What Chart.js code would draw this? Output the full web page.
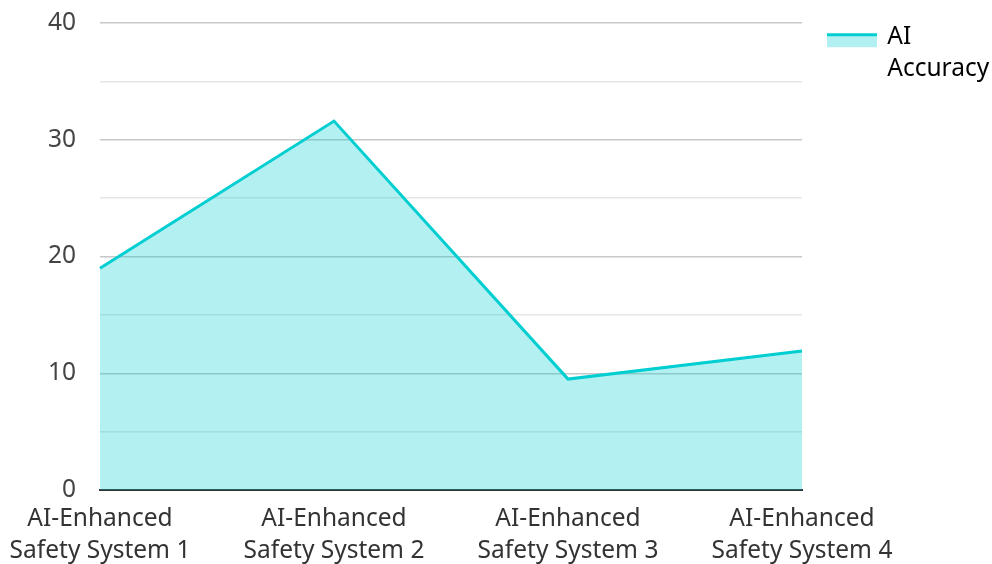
<!DOCTYPE html>
<html>
<head>
<meta charset="utf-8">
<script src="https://cdn.jsdelivr.net/npm/chart.js@4/dist/chart.umd.min.js"></script>
<style>
html,body{margin:0;padding:0;background:#fff;}
#wrap{width:992px;height:564px;position:relative;}
</style>
</head>
<body>
<div id="wrap"><canvas id="c" width="992" height="564"></canvas></div>
<script>
const categories = [
  ["AI-Enhanced", "Safety System 1"],
  ["AI-Enhanced", "Safety System 2"],
  ["AI-Enhanced", "Safety System 3"],
  ["AI-Enhanced", "Safety System 4"]
];
const seriesName = ["AI", "Accuracy"];
const accuracy = [19.0, 31.6, 9.5, 11.9];
const yTicks = [0, 10, 20, 30, 40];

const LINE = '#00CED1';
const FILL = 'rgba(0,206,209,0.30)';

// legend swatch: thick line on top of a light fill block (with transparent margin)
const sw = document.createElement('canvas');
sw.width = 77; sw.height = 28;
(function(){
  const g = sw.getContext('2d');
  g.fillStyle = FILL; g.fillRect(26, 10, 50, 14);
  g.fillStyle = LINE; g.fillRect(26, 10, 50, 3);
})();

Chart.defaults.font.family = "'Noto Sans', 'Open Sans', sans-serif";
Chart.defaults.color = '#444';

new Chart(document.getElementById('c'), {
  type: 'line',
  data: {
    labels: categories,
    datasets: [{
      label: seriesName.join(' '),
      data: accuracy,
      borderColor: LINE,
      backgroundColor: FILL,
      borderWidth: 3,
      fill: 'origin',
      tension: 0,
      pointRadius: 0,
      pointHoverRadius: 0
    }]
  },
  options: {
    responsive: false,
    animation: false,
    layout: { padding: { top: 23, right: 0, left: 0, bottom: 0 } },
    plugins: {
      tooltip: { enabled: false },
      legend: {
        position: 'right',
        align: 'start',
        maxWidth: 190,
        labels: {
          usePointStyle: true,
          pointStyleWidth: 71,
          boxHeight: 14,
          padding: 2,
          color: '#333',
          font: { size: 24.5, lineHeight: 1.306 },
          generateLabels(chart) {
            return [{
              text: seriesName,
              pointStyle: sw,
              fillStyle: FILL,
              strokeStyle: LINE,
              lineWidth: 0,
              datasetIndex: 0,
              hidden: false
            }];
          }
        }
      }
    },
    scales: {
      x: {
        offset: false,
        grid: { display: false, drawTicks: false },
        border: { display: true, color: '#333', width: 2 },
        ticks: {
          color: '#333',
          font: { size: 24.5, lineHeight: 1.306 },
          maxRotation: 0,
          autoSkip: false,
          padding: 13
        },
        afterFit(scale) {
          scale.height = 74;
          scale.paddingLeft = 0; scale.paddingRight = 0;
        }
      },
      y: {
        min: 0,
        max: 40,
        grid: {
          drawTicks: false,
          lineWidth: 1.5,
          color: (ctx) => (ctx.tick && yTicks.includes(ctx.tick.value)) ? '#c8c8c8' : '#e6e6e6'
        },
        border: { display: false },
        ticks: {
          stepSize: 5,
          color: '#444',
          font: { size: 24.5 },
          padding: 24,
          callback: (v) => yTicks.includes(v) ? String(v) : ''
        },
        afterFit(scale) {
          scale.width = 100;
          scale.paddingTop = 0; scale.paddingBottom = 0;
        }
      }
    }
  }
});
</script>
</body>
</html>
